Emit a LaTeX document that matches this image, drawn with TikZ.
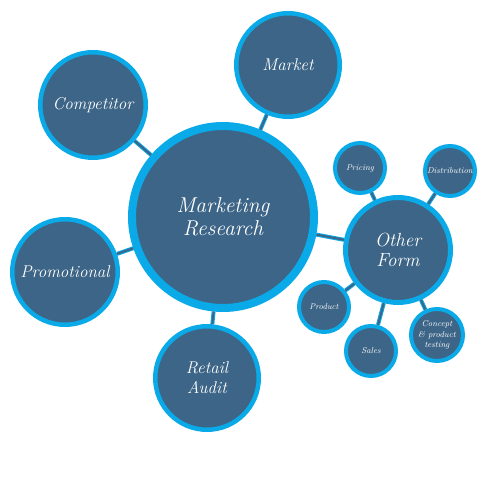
\documentclass[tikz,border=0pt]{standalone}
\usepackage{tikz}
\usetikzlibrary{calc}
\definecolor{mrdark}{RGB}{61,101,135}
\definecolor{mrcyan}{RGB}{10,170,232}
\tikzset{
  bubble/.style={circle,fill=mrdark,draw=mrcyan,text=white,align=center,
    inner sep=0pt,font=\itshape},
  big/.style={bubble,line width=8pt,minimum size=182pt,
    font=\fontsize{21.5}{23}\selectfont\itshape},
  mid/.style={bubble,line width=4.5pt,font=\fontsize{17}{20}\selectfont\itshape},
  small/.style={bubble,line width=4pt,minimum size=50pt,
    font=\fontsize{8.5}{10.5}\selectfont\itshape},
  link/.style={draw=mrcyan,line width=1pt,double=mrdark,double distance=2pt}
}
\begin{document}
\begin{tikzpicture}[x=1pt,y=1pt]
 \useasboundingbox(0,0)rectangle(480,480);
 % main hub and the five topics round it
 \node[big](mr)at(223,263){Marketing\\ Research};
 \node[mid,minimum size=105.5pt](comp)at(93,375){Competitor};
 \node[mid,minimum size=103.5pt](mkt)at(288,415){Market};
 \node[mid,minimum size=105.5pt](promo)at(65,208){Promotional};
 \node[mid,minimum size=103.5pt](retail)at(207,102){Retail\\ Audit};
 \node[mid,minimum size=105pt,line width=5pt,font=\fontsize{19}{20}\selectfont\itshape](other)at(398,230){Other\\ Form};
 % the small satellites of "Other Form"
 \node[small](price)at(360,312){Pricing};
 \node[small](dist)at(450,309){Distribution};
 \node[small](prod)at(324,173){Product};
 \node[small](sales)at(371,129){Sales};
 \node[small,minimum size=52pt](concept)at(437,145){Concept\\ \& product\\ testing};
 \foreach \n in {comp,mkt,promo,retail,other}
  \draw[link](mr)--(\n);
 \foreach \n in {price,dist,prod,sales,concept}
  \draw[link](other)--(\n);
\end{tikzpicture}
\end{document}
